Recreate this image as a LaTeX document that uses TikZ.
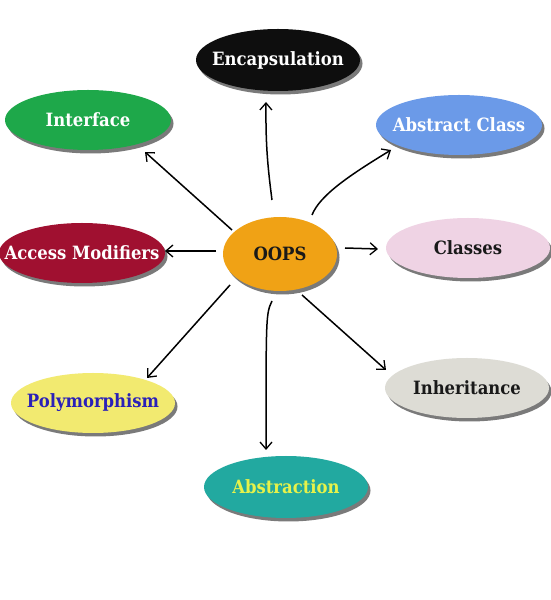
\documentclass[tikz,border=0pt]{standalone}
\usepackage{fontspec}
\setmainfont{DejaVu Serif Condensed}
\usetikzlibrary{shapes.geometric,shadows,arrows.meta}
\definecolor{cBlack}{HTML}{0E0E0E}
\definecolor{cGreen}{HTML}{1EA84A}
\definecolor{cBlue}{HTML}{6B9AE8}
\definecolor{cRed}{HTML}{A01030}
\definecolor{cOrange}{HTML}{F0A215}
\definecolor{cPink}{HTML}{EFD3E4}
\definecolor{cYellow}{HTML}{F2EA70}
\definecolor{cGrey}{HTML}{DDDCD5}
\definecolor{cTeal}{HTML}{22A9A0}
\definecolor{tBlue}{HTML}{2A20B8}
\definecolor{tYellow}{HTML}{E6F24A}
\tikzset{
  bub/.style={ellipse, draw=none, inner sep=0pt, minimum width=164pt, minimum height=60pt,
    drop shadow={shadow xshift=2.5pt, shadow yshift=-3.5pt, fill=black!80, opacity=0.65}},
  lbl/.style={font=\fontsize{18.3}{20}\selectfont\bfseries, inner sep=0pt},
  arr/.style={line width=1.5pt, -{Straight Barb[length=7pt,width=12pt,line width=1.3pt]}},
}
\begin{document}
\begin{tikzpicture}[x=1pt,y=1pt]
\useasboundingbox (0,0) rectangle (550,600);
\fill[white] (0,0) rectangle (550,600);
% bubbles
\node[bub, fill=cBlack, minimum width=164pt, minimum height=62pt] (enc) at (278,540) {};
\node[lbl, text=white] (enct) at (enc) {Encapsulation};
\node[bub, fill=cGreen, minimum width=166pt] (intf) at (88,480) {};
\node[lbl, text=white] (intft) at (intf) {Interface};
\node[bub, fill=cBlue, minimum width=166pt] (absc) at (459,475) {};
\node[lbl, text=white] (absct) at (absc) {Abstract Class};
\node[bub, fill=cRed, minimum width=166pt] (acc) at (82,347) {};
\node[lbl, text=white] (acct) at (acc) {Access Modifiers};
\node[bub, fill=cOrange, minimum width=114pt, minimum height=74pt] (oops) at (280,346) {};
\node[lbl, text=black!90] (oopst) at (oops) {OOPS};
\node[bub, fill=cPink] (cls) at (468,352) {};
\node[lbl, text=black!90] (clst) at (cls) {Classes};
\node[bub, fill=cYellow] (poly) at (93,197) {};
\node[lbl, text=tBlue] (polyt) at (poly) {Polymorphism};
\node[bub, fill=cGrey] (inh) at (467,212) {};
\node[lbl, text=black!90] (inht) at (inh) {Inheritance};
\node[bub, fill=cTeal, minimum height=62pt] (abst) at (286,113) {};
\node[lbl, text=tYellow] (abstt) at (abst) {Abstraction};
% connector ends
\coordinate (s1) at (272,400); \coordinate (e1) at (266,498);
\coordinate (s2) at (232,370); \coordinate (e2) at (145,448);
\coordinate (s3) at (312,385); \coordinate (e3) at (391,450);
\coordinate (s4) at (216,349); \coordinate (e4) at (165,349);
\coordinate (s5) at (345,352); \coordinate (e5) at (378,351);
\coordinate (s6) at (230,315); \coordinate (e6) at (147,222);
\coordinate (s7) at (272,299); \coordinate (e7) at (266,150);
\coordinate (s8) at (302,305); \coordinate (e8) at (386,230);
\draw[arr] (s1) to[bend left=4] (e1);
\draw[arr] (s2) -- (e2);
\draw[arr] (s3) .. controls (320,405) and (350,425) .. (e3);
\draw[arr] (s4) -- (e4);
\draw[arr] (s5) -- (e5);
\draw[arr] (s6) -- (e6);
\draw[arr] (s7) .. controls (266,286) .. (e7);
\draw[arr] (s8) -- (e8);
\end{tikzpicture}
\end{document}
